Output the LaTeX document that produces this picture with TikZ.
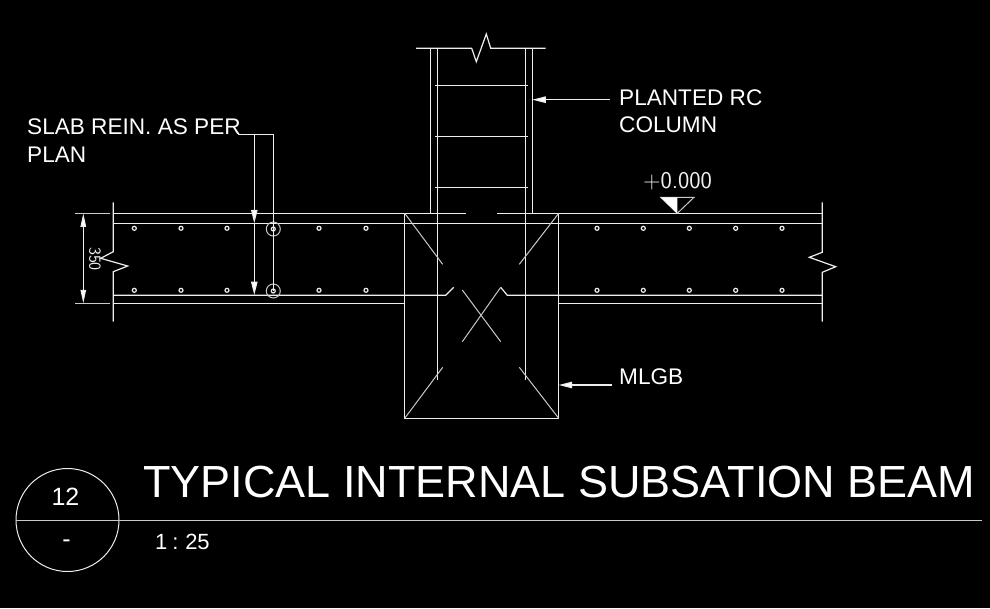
\documentclass[tikz,border=0pt]{standalone}
\usepackage{fontspec}
\setmainfont{Liberation Sans}
\newfontfamily\thinfont{Latin Modern Sans}
\usetikzlibrary{arrows.meta}
\definecolor{cadline}{RGB}{238,238,238}
\newcommand{\tightspaces}{\spaceskip=.22em\relax}
\tikzset{
  cad/.style={draw=cadline,line width=1.2pt,line cap=butt},
  thin cad/.style={draw=cadline!85!black,line width=1pt},
  tipped/.style={cad,-{Triangle[length=13.5pt,width=6.5pt,fill=white]}},
  label text/.style={text=white,inner sep=0pt,anchor=base west,font=\fontsize{22.6}{22.6}\selectfont},
  rebar/.style={draw=cadline,line width=1.2pt,fill=black},
}
\begin{document}
\begin{tikzpicture}[x=1pt,y=-1pt]
\useasboundingbox[fill=black] (0,0) rectangle (990,608);
% column
\draw[cad] (416,48.3) -- (471.7,48.3) -- (476.3,61.7) -- (486.3,34) -- (490.7,48.3) -- (545.7,48.3);
\draw[cad] (430.3,48.3) -- (430.3,213.3);
\draw[cad] (532.3,48.3) -- (532.3,213.3);
\draw[cad] (437.3,48.3) -- (437.3,380);
\draw[cad] (525.5,48.3) -- (525.5,380);
\foreach \y in {85.3,136.3,187.3} \draw[cad] (435,\y) -- (528,\y);
% slab and beam lines
\draw[cad] (113.3,213.3) -- (465.7,213.3);
\draw[cad] (497.3,213.3) -- (822.3,213.3);
\draw[cad] (113.3,223.3) -- (822.3,223.3);
\draw[cad] (113.3,295.3) -- (445.7,295.3) -- (453.7,287.3);
\draw[cad] (822.3,295.3) -- (507.3,295.3) -- (500.7,287.3);
\draw[cad] (113.3,303.3) -- (404.7,303.3);
\draw[cad] (558.7,303.3) -- (822.3,303.3);
% drop beam, open at the top where the slab line breaks
\draw[cad] (404.7,213.3) -- (404.7,418.3) -- (558.7,418.3) -- (558.7,213.3);
\draw[thin cad] (404.7,213.3) -- (442.7,264.3);
\draw[thin cad] (558.7,213.3) -- (519.3,264.3);
\draw[thin cad] (404.7,418.3) -- (442.7,367.3);
\draw[thin cad] (558.7,418.3) -- (519.3,367.3);
\draw[thin cad] (462.3,290) -- (500.7,341.7);
\draw[thin cad] (462.3,341.7) -- (500.7,287.3);
% break lines
\draw[cad] (113.3,202.3) -- (113.3,251.7) -- (100.7,258.3) -- (127.7,266) -- (113.3,271.7) -- (113.3,321.7);
\draw[cad] (822.3,202.3) -- (822.3,252.3) -- (809.3,257.3) -- (835.7,266.7) -- (822.3,272.3) -- (822.3,321.7);
% bars
\foreach \x in {134.3,181,227,319,366,597,643.3,689.3,735.7,782} {
  \draw[rebar] (\x,228.3) circle (2);
  \draw[rebar] (\x,290.3) circle (2);
}
\foreach \y in {229,291} {
  \draw[rebar] (273.3,\y) circle (2);
  \draw[thin cad] (273.3,\y) circle (7);
}
% dimension
\draw[thin cad] (75,213.3) -- (110,213.3);
\draw[thin cad] (75,303.3) -- (110,303.3);
\coordinate (dimtop) at (83.3,213.3);
\coordinate (dimbot) at (83.3,303.3);
\draw[cad,{Triangle[length=13.5pt,width=5.5pt,fill=white]}-{Triangle[length=13.5pt,width=5.5pt,fill=white]}] (dimtop) -- (dimbot);
\node[text=cadline,inner sep=0pt,rotate=-90,font=\thinfont\fontsize{17}{17}\selectfont] (dimtext) at (95,259) {350};
% level mark
\draw[thin cad] (660.7,197.3) -- (694,197.3) -- (677.3,213.3) -- cycle;
\fill[white] (660.7,197.3) -- (677.3,197.3) -- (677.3,213.3) -- cycle;
\node[text=cadline,inner sep=0pt,font=\thinfont\fontsize{24}{24}\selectfont] (level) at (677.5,181.7) {+0.000};
% labels
\node[label text] (planted) at (619,105) {PLANTED RC};
\node[label text] (column) at (619,132) {COLUMN};
\node[label text] (slab) at (27,134.5) {SLAB REIN. AS PER};
\node[label text] (plan) at (27,162) {PLAN};
\node[label text] (mlgb) at (619,384) {MLGB};
% leaders
\coordinate (colhit) at (532.3,99.7);
\coordinate (colstart) at (610,99.7);
\draw[tipped] (colstart) -- (colhit);
\coordinate (beamhit) at (558.7,385);
\coordinate (beamstart) at (612,385);
\draw[tipped] (beamstart) -- (beamhit);
\coordinate (slabstart) at (238,134.3);
\coordinate (slabcorner) at (273.3,134.3);
\coordinate (slabdrop) at (254.3,134.3);
\coordinate (toparrow) at (254.3,223.3);
\coordinate (botarrow) at (254.3,295);
\draw[cad] (slabstart) -- (slabcorner) -- (273.3,291);
\draw[tipped] (slabdrop) -- (toparrow);
\draw[tipped] (toparrow) -- (botarrow);
% title block
\node[text=white,inner sep=0pt,anchor=base west,font=\fontsize{45}{45}\selectfont] (title) at (143,497) {TYPICAL INTERNAL SUBSATION BEAM};
\node[draw=cadline,line width=1pt,circle,minimum size=103pt,inner sep=0pt] (bubble) at (67.5,520) {};
\coordinate (ruleR) at (982,520);
\draw[thin cad] (bubble.west) -- (ruleR);
\node[text=white,inner sep=0pt,font=\fontsize{25}{25}\selectfont] (num) at (65.5,497) {12};
\node[text=white,inner sep=0pt,font=\fontsize{25}{25}\selectfont] (dash) at (66.5,544) {-};
\node[text=white,inner sep=0pt,anchor=base west,font=\fontsize{22}{22}\selectfont] (scale) at (155,549.5) {\tightspaces 1 : 25};
\end{tikzpicture}
\end{document}
